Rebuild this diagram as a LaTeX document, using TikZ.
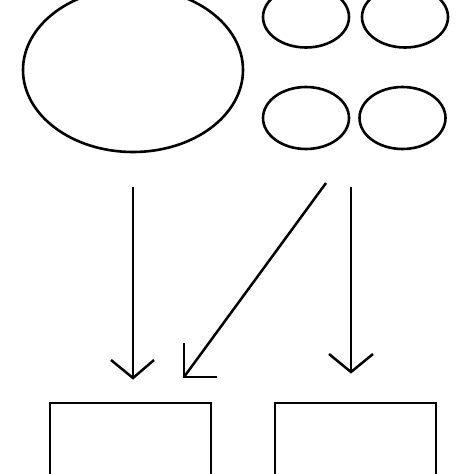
\documentclass[tikz,border=0pt]{standalone}
\usetikzlibrary{shapes.geometric}
\begin{document}
\begin{tikzpicture}[x=1pt,y=-1pt,
  oval/.style={draw=black,line width=2.6pt,ellipse,inner sep=0pt},
  boxnode/.style={draw=black,line width=2.2pt,rectangle,inner sep=0pt,minimum width=161pt,minimum height=120pt,anchor=north west},
  conn/.style={draw=black,line width=2.5pt},
  head/.style={draw=black,line width=2.5pt,line join=miter}]
\useasboundingbox (0,0) rectangle (474,474);
\clip (0,0) rectangle (474,474);
\fill[white] (0,0) rectangle (474,474);
\node[oval,minimum width=220pt,minimum height=164pt] (big) at (133,70) {};
\node[oval,minimum width=86pt,minimum height=61pt] (s1) at (306,17) {};
\node[oval,minimum width=86pt,minimum height=61pt] (s2) at (405,17) {};
\node[oval,minimum width=86pt,minimum height=62pt] (s3) at (306,118) {};
\node[oval,minimum width=86pt,minimum height=62pt] (s4) at (402.5,118) {};
\node[boxnode] (b1) at (49,402) {};
\node[boxnode] (b2) at (274,402) {};
\coordinate (a1s) at (133,187);
\coordinate (a1e) at (133,378);
\coordinate (a2s) at (326,183);
\coordinate (a2e) at (184,377);
\coordinate (a3s) at (351,187);
\coordinate (a3e) at (351,372);
\draw[conn] (a1s) -- (a1e);
\draw[head] ([shift={(-22,-18)}]a1e) -- (a1e) -- ([shift={(21,-18)}]a1e);
\draw[conn] (a2s) -- (a2e);
\draw[head] ([shift={(0,-34)}]a2e) -- (a2e) -- ([shift={(33,0)}]a2e);
\draw[conn] (a3s) -- (a3e);
\draw[head] ([shift={(-22,-18)}]a3e) -- (a3e) -- ([shift={(22,-18)}]a3e);
\end{tikzpicture}
\end{document}
